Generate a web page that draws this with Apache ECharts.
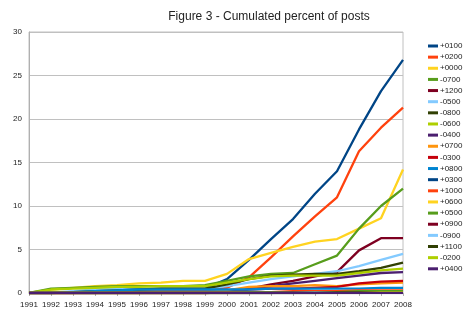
<!DOCTYPE html>
<html><head><meta charset="utf-8">
<script src="https://cdn.jsdelivr.net/npm/echarts@6/dist/echarts.min.js"></script>
<style>html,body{margin:0;padding:0;background:#fff}#c{width:474px;height:323px}</style>
</head><body><div id="c"></div>
<script>
const years = ['1991','1992','1993','1994','1995','1996','1997','1998','1999','2000','2001','2002','2003','2004','2005','2006','2007','2008'];
const yTicks = [0,5,10,15,20,25,30];
const names = ['+0100','+0200','+0000','-0700','+1200','-0500','-0800','-0600','-0400','+0700','-0300','+0800','+0300','+1000','+0600','+0500','+0900','-0900','+1100','-0200','+0400'];
const p0100 = [0,0,0.1,0.2,0.3,0.4,0.5,0.5,0.5,1.6,3.8,6.2,8.5,11.4,14.0,18.8,23.2,26.8];
const p0200 = [0,0,0,0.1,0.1,0.2,0.2,0.3,0.3,0.6,1.8,4.1,6.5,8.8,11.0,16.3,19.0,21.3];
const p0000 = [0,0.4,0.6,0.8,0.9,1.1,1.2,1.4,1.4,2.2,3.9,4.6,5.3,5.9,6.2,7.4,8.6,14.2];
const m0700 = [0,0.5,0.6,0.7,0.8,0.8,0.8,0.8,0.9,1.4,1.9,2.2,2.3,3.3,4.3,7.4,10.0,12.0];
const p1200 = [0,0,0,0,0,0,0,0,0,0.1,0.5,1.0,1.4,1.9,2.4,4.9,6.3,6.3];
const m0500 = [0,0,0.2,0.4,0.5,0.5,0.5,0.5,0.5,0.8,1.2,1.6,1.9,2.2,2.5,3.1,3.8,4.5];
const m0800 = [0,0,0.1,0.2,0.3,0.4,0.5,0.5,0.5,1.0,1.6,2.0,2.1,2.2,2.2,2.5,2.9,3.5];
const m0600 = [0,0.4,0.5,0.6,0.7,0.7,0.8,0.8,0.8,1.2,1.6,1.9,2.0,2.0,2.0,2.3,2.6,2.8];
const m0400 = [0,0,0,0,0.1,0.1,0.1,0.1,0.1,0.3,0.5,0.8,1.1,1.4,1.7,2.0,2.3,2.4];
const p0700 = [0,0,0,0,0,0,0.1,0.1,0.1,0.3,0.7,0.8,0.8,0.9,0.8,1.0,1.1,1.2];
const m0300 = [0,0,0,0,0,0,0,0,0,0.1,0.4,0.5,0.5,0.6,0.7,1.1,1.3,1.4];
const p0800 = [0,0,0.1,0.2,0.3,0.4,0.4,0.4,0.4,0.4,0.4,0.5,0.5,0.5,0.5,0.5,0.6,0.6];
const p0300 = [0,0,0,0,0,0,0,0,0,0.1,0.1,0.1,0.1,0.1,0.2,0.2,0.2,0.2];
const p1000 = [0,0,0,0,0,0,0,0,0,0.1,0.1,0.1,0.2,0.2,0.2,0.3,0.3,0.3];
const p0600 = [0,0,0,0,0,0,0,0,0,0,0,0.1,0.1,0.1,0.1,0.1,0.1,0.1];
const p0500 = [0,0,0,0,0,0,0,0,0,0,0.1,0.1,0.1,0.1,0.1,0.2,0.2,0.2];
const p0900 = [0,0,0,0,0,0,0,0,0,0,0,0,0.1,0.1,0.1,0.1,0.1,0.1];
const m0900 = [0,0,0,0,0,0,0,0,0,0,0,0,0,0.1,0.1,0.1,0.1,0.1];
const p1100 = [0,0,0,0,0,0,0,0,0,0,0,0,0,0,0.1,0.1,0.1,0.1];
const m0200 = [0,0,0,0,0,0,0,0,0,0,0,0,0,0,0,0,0.1,0.1];
const p0400 = [0,0,0,0,0,0,0,0,0,0,0,0,0,0,0,0,0,0];
const values = [p0100,p0200,p0000,m0700,p1200,m0500,m0800,m0600,m0400,p0700,m0300,p0800,p0300,p1000,p0600,p0500,p0900,m0900,p1100,m0200,p0400];
const palette = ['#004586','#ff420e','#ffd320','#579d1c','#7e0021','#83caff','#314004','#aecf00','#4b1f6f','#ff950e','#c5000b','#0084d1'];

const chart = echarts.init(document.getElementById('c'), null, {renderer:'canvas'});
chart.setOption({
  animation:false,
  color: names.map((n,i)=>palette[i%palette.length]),
  title:{text:'Figure 3 - Cumulated percent of posts', left:264, textAlign:'center', top:6,
    textStyle:{fontFamily:'Liberation Sans', fontSize:12, fontWeight:'normal', color:'#222'}},
  legend:{orient:'vertical', left:423, top:36, icon:'rect', itemWidth:10, itemHeight:3, itemGap:1.14,
    textStyle:{fontFamily:'Liberation Sans', fontSize:8, color:'#222', lineHeight:10, padding:[0,0,0,-3]},
    data:names},
  grid:{left:29, right:71, top:32, bottom:30, show:true, borderColor:'#c0c0c0', borderWidth:1},
  xAxis:{type:'category', data:years, boundaryGap:false,
    axisLine:{lineStyle:{color:'#b0b0b0'}}, axisTick:{show:true, lineStyle:{color:'#b0b0b0'}, length:3},
    axisLabel:{fontFamily:'Liberation Sans', fontSize:8, color:'#222', margin:8, interval:0}},
  yAxis:{type:'value', min:0, max:30, interval:5,
    axisLine:{show:true, lineStyle:{color:'#b0b0b0'}}, axisTick:{show:false},
    splitLine:{lineStyle:{color:'#c0c0c0'}},
    axisLabel:{fontFamily:'Liberation Sans', fontSize:8, color:'#222', margin:7}},
  series: names.map((n,i)=>({name:n, type:'line', data:values[i], symbol:'none', lineStyle:{width:2.3}}))
});
</script></body></html>
